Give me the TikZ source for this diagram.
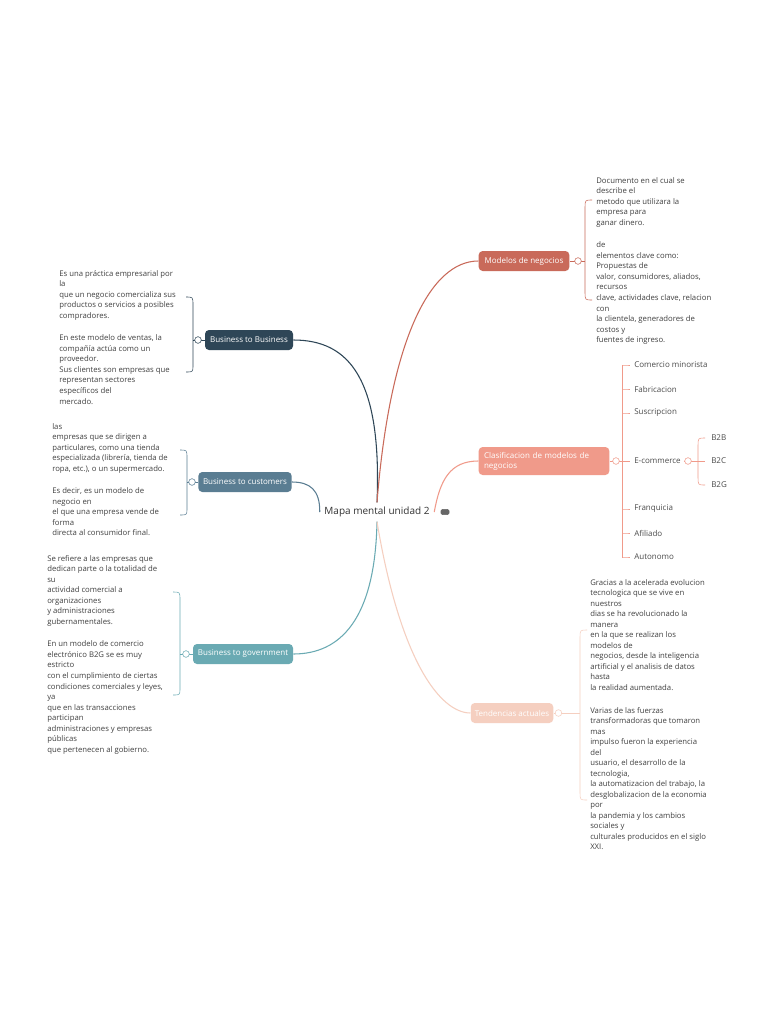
\documentclass[tikz,border=0pt]{standalone}
\usepackage{fontspec}
\setmainfont{Open Sans}
\begin{document}
\begin{tikzpicture}[x=0.75pt,y=-0.75pt,
  txt/.style={anchor=north west,align=left,inner sep=0,font=\fontsize{5.8}{7.9}\selectfont,text=black!75},
  lbl/.style={anchor=west,inner sep=0,font=\fontsize{6}{7.9}\selectfont,text=black!70},
  topic/.style={rounded corners=3pt,minimum height=15pt,inner sep=3pt,text=white,font=\fontsize{6}{7.5}\selectfont},
  knob/.style={circle,draw,fill=white,inner sep=0,minimum size=5pt}]
\definecolor{cbb}{HTML}{2E4657}\definecolor{cbc}{HTML}{5A7D92}\definecolor{cbg}{HTML}{6AAAB3}
\definecolor{cmn}{HTML}{C96A5A}\definecolor{ccl}{HTML}{F09A8A}\definecolor{ctd}{HTML}{F5CFC0}
\useasboundingbox (0,0) rectangle (768,1024);
\fill[white] (0,0) rectangle (768,1024);
\node[font=\fontsize{7.5}{9}\selectfont,text=black!80] (c) at (377,512) {Mapa mental unidad 2};
\node[draw=black!60,fill=black!60,rounded corners=1pt,minimum width=6pt,minimum height=4pt,inner sep=0] (ic) at (445,512) {};
% main topics
\node[topic,fill=cbb,minimum width=66pt] (bb) at (249,340) {Business to Business};
\node[topic,fill=cbc,minimum width=70pt] (bc) at (245,482) {Business to customers};
\node[topic,fill=cbg,minimum width=75pt] (bg) at (243,654) {Business to government};
\node[topic,fill=cmn,minimum width=68pt] (mn) at (524,261) {Modelos de negocios};
\node[topic,fill=ccl,minimum width=98pt,minimum height=21pt,align=left,text width=90pt] (cl) at (544,461) {Clasificacion de modelos de\\negocios};
\node[topic,fill=ctd,minimum width=47pt] (td) at (512,713) {Tendencias actuales};
% connectors
\draw[cbb,thick] (c.north) .. controls (382,380) and (350,340) .. (bb.east);
\draw[cbc,thick] (c.west) .. controls (320,490) and (310,482) .. (bc.east);
\draw[cbg,thick] (c.south) .. controls (375,620) and (340,654) .. (bg.east);
\draw[cmn,thick] (c.north) .. controls (390,340) and (430,261) .. (mn.west);
\draw[ccl,thick] (c.east) .. controls (440,480) and (450,461) .. (cl.west);
\draw[ctd,thick] (c.south) .. controls (400,660) and (440,713) .. (td.west);
% left braces
\draw[cbb] (186,297) .. controls (193,297) .. (193,305) -- (193,365) .. controls (193,372) .. (186,372);
\draw[cbb] (193,340) -- (bb.west); \node[knob,draw=cbb] (k1) at (198,340) {};
\draw[cbc] (180,450) .. controls (187,450) .. (187,458) -- (187,508) .. controls (187,515) .. (180,515);
\draw[cbc] (187,482) -- (bc.west); \node[knob,draw=cbc] (k2) at (192,482) {};
\draw[cbg] (173,592) .. controls (180,592) .. (180,600) -- (180,688) .. controls (180,695) .. (173,695);
\draw[cbg] (180,654) -- (bg.west); \node[knob,draw=cbg] (k3) at (186,654) {};
% right braces
\draw[cmn] (592,200) .. controls (585,200) .. (585,208) -- (585,292) .. controls (585,300) .. (592,300);
\draw[cmn] (mn.east) -- (585,261); \node[knob,draw=cmn] (k4) at (578,261) {};
\draw[ctd] (587,630) .. controls (580,630) .. (580,638) -- (580,792) .. controls (580,800) .. (587,800);
\draw[ctd] (td.east) -- (580,713); \node[knob,draw=ctd,anchor=west] (k5) at ([xshift=1pt]td.east) {};
\draw[ccl] (cl.east) -- (622,461); \node[knob,draw=ccl] (k6) at (616,461) {};
\foreach \yy in {365,389,413,509,533,557}{\draw[ccl] (622,461) -- (622,\yy) .. controls (622,\yy-0) .. (630,\yy);}
\draw[ccl] (622,461) -- (630,461);
\node[lbl] (l1) at (634,365) {Comercio minorista};
\node[lbl] (l2) at (634,389) {Fabricacion};
\node[lbl] (l3) at (634,413) {Suscripcion};
\node[lbl] (l4) at (634,461) {E-commerce};
\node[lbl] (l5) at (634,509) {Franquicia};
\node[lbl] (l6) at (634,533) {Afiliado};
\node[lbl] (l7) at (634,557) {Autonomo};
\draw[ccl] (l4.east) ++(3,0) -- (698,461); \node[knob,draw=ccl] (k7) at (688,461) {};
\draw[ccl] (705,438) .. controls (698,438) .. (698,446) -- (698,477) .. controls (698,485) .. (705,485);
\draw[ccl] (698,461) -- (705,461);
\node[lbl] (e1) at (711,438) {B2B};
\node[lbl] (e2) at (711,461) {B2C};
\node[lbl] (e3) at (711,485) {B2G};
% texts
\node[txt] (t1) at (59,270) {Es una práctica empresarial por\\la\\que un negocio comercializa sus\\productos o servicios a posibles\\compradores.\\[9pt]En este modelo de ventas, la\\compañía actúa como un\\proveedor.\\Sus clientes son empresas que\\representan sectores\\específicos del\\mercado.};
\node[txt] (t2) at (52,423) {las\\empresas que se dirigen a\\particulares, como una tienda\\especializada (librería, tienda de\\ropa, etc.), o un supermercado.\\[9pt]Es decir, es un modelo de\\negocio en\\el que una empresa vende de\\forma\\directa al consumidor final.};
\node[txt] (t3) at (47,555) {Se refiere a las empresas que\\dedican parte o la totalidad de\\su\\actividad comercial a\\organizaciones\\y administraciones\\gubernamentales.\\[9pt]En un modelo de comercio\\electrónico B2G se es muy\\estricto\\con el cumplimiento de ciertas\\condiciones comerciales y leyes,\\ya\\que en las transacciones\\participan\\administraciones y empresas\\públicas\\que pertenecen al gobierno.};
\node[txt] (t4) at (596,177) {Documento en el cual se\\describe el\\metodo que utilizara la\\empresa para\\ganar dinero.\\[9pt]de\\elementos clave como:\\Propuestas de\\valor, consumidores, aliados,\\recursos\\clave, actividades clave, relacion\\con\\la clientela, generadores de\\costos y\\fuentes de ingreso.};
\node[txt] (t5) at (590,579) {Gracias a la acelerada evolucion\\tecnologica que se vive en\\nuestros\\dias se ha revolucionado la\\manera\\en la que se realizan los\\modelos de\\negocios, desde la inteligencia\\artificial y el analisis de datos\\hasta\\la realidad aumentada.\\[9pt]Varias de las fuerzas\\transformadoras que tomaron\\mas\\impulso fueron la experiencia\\del\\usuario, el desarrollo de la\\tecnologia,\\la automatizacion del trabajo, la\\desglobalizacion de la economia\\por\\la pandemia y los cambios\\sociales y\\culturales producidos en el siglo\\XXI.};
\end{tikzpicture}
\end{document}
